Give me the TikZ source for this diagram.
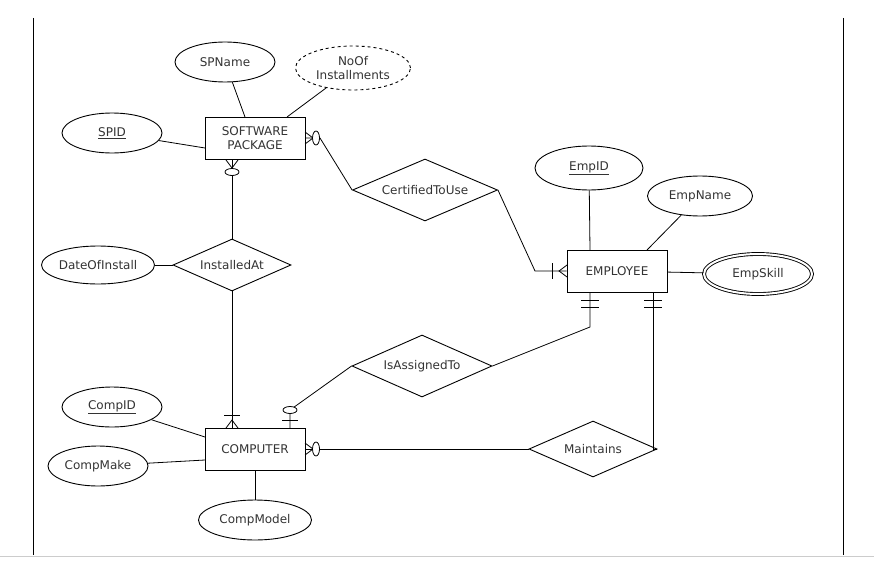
\documentclass[tikz,border=0pt]{standalone}
\usepackage{fontspec}
\setmainfont{DejaVu Sans}
\usetikzlibrary{shapes.geometric}
\begin{document}
\begin{tikzpicture}[x=1pt,y=-1pt,line width=0.9pt,
  every node/.style={font=\fontsize{12}{14}\selectfont,align=center,text=black!80},
  ent/.style={draw,minimum width=100pt,minimum height=42pt,inner sep=1pt},
  att/.style={draw,ellipse,minimum width=100pt,minimum height=40pt,inner sep=0pt},
  rel/.style={draw,diamond,aspect=2.3,inner sep=0pt},
  ln/.style={line width=0.8pt}]
\useasboundingbox (0,0) rectangle (874,567);
\draw[line width=1pt] (33,18) -- (33,555);
\draw[line width=1pt] (843,18) -- (843,555);
\draw[gray!40,line width=0.6pt] (0,556) -- (874,556);
% entities
\node[ent] (sp) at (255,138) {SOFTWARE\\PACKAGE};
\node[ent] (emp) at (617,271) {EMPLOYEE};
\node[ent] (comp) at (255,449) {COMPUTER};
% attributes
\node[att] (spname) at (225,62) {SPName};
\node[att,dashed,minimum width=115pt,minimum height=44pt] (noof) at (353,68) {NoOf\\Installments};
\node[att] (spid) at (112,133) {\underline{SPID}};
\node[att,minimum width=108pt,minimum height=44pt] (empid) at (589,168) {\underline{EmpID}};
\node[att,minimum width=105pt] (empname) at (700,196) {EmpName};
\node[att,double,double distance=2pt,minimum width=108pt] (empskill) at (758,274) {EmpSkill};
\node[att,minimum width=113pt,minimum height=38pt] (doi) at (98,265) {DateOfInstall};
\node[att] (compid) at (112,407) {\underline{CompID}};
\node[att] (compmake) at (98,466) {CompMake};
\node[att,minimum width=113pt] (compmodel) at (255,520) {CompModel};
% relationships
\node[rel,minimum width=145pt,minimum height=62pt] (cert) at (425,190) {CertifiedToUse};
\node[rel,minimum width=118pt,minimum height=52pt] (inst) at (232,265) {InstalledAt};
\node[rel,minimum width=140pt,minimum height=62pt] (assign) at (422,366) {IsAssignedTo};
\node[rel,minimum width=128pt,minimum height=56pt] (maint) at (593,449) {Maintains};
% attribute lines
\draw[ln] (spname) -- (245,117);
\draw[ln] (noof) -- (287,117);
\draw[ln] (spid) -- (205,148);
\draw[ln] (empid) -- (590,250);
\draw[ln] (empname) -- (647,250);
\draw[ln] (emp) -- (empskill);
\draw[ln] (doi) -- (inst);
\draw[ln] (compid) -- (205,437);
\draw[ln] (compmake) -- (205,460);
\draw[ln] (compmodel) -- (255,470);
% SP - CertifiedToUse (zero or many at SP)
\coordinate (c1) at (320,138);
\draw[ln] (305,138) -- (c1) -- (cert.west);
\draw[ln] (305,132) -- (313,138) -- (305,144);
\draw[ln,fill=white] (316,138) ellipse (3.5 and 7);
% CertifiedToUse - EMPLOYEE (one or many)
\coordinate (c2) at (535,271);
\draw[ln] (cert.east) -- (c2) -- (emp.west);
\draw[ln] (567,265) -- (559,271) -- (567,277);
\draw[ln] (552,263) -- (552,279);
% SP - InstalledAt (zero or many)
\draw[ln] (232,160) -- (inst.north);
\draw[ln] (226,160) -- (232,168) -- (238,160);
\draw[ln,fill=white] (232,172) ellipse (7 and 3.5);
% InstalledAt - COMPUTER (one or many)
\draw[ln] (inst.south) -- (232,428);
\draw[ln] (226,428) -- (232,420) -- (238,428);
\draw[ln] (224,415) -- (240,415);
% IsAssignedTo - COMPUTER (zero or one)
\coordinate (c3) at (290,410);
\draw[ln] (assign.west) -- (c3) -- (290,428);
\draw[ln] (282,420) -- (298,420);
\draw[ln,fill=white] (290,410) ellipse (7 and 3.5);
% IsAssignedTo - EMPLOYEE (one and only one)
\coordinate (c4) at (590,327);
\draw[ln] (assign.east) -- (c4) -- (590,292);
\draw[ln] (581,300) -- (599,300);
\draw[ln] (581,307) -- (599,307);
% Maintains - EMPLOYEE
\coordinate (c5) at (653,449);
\draw[ln] (maint.east) -- (c5) -- (653,292);
\draw[ln] (644,300) -- (662,300);
\draw[ln] (644,307) -- (662,307);
% Maintains - COMPUTER (zero or many)
\draw[ln] (maint.west) -- (305,449);
\draw[ln] (305,443) -- (313,449) -- (305,455);
\draw[ln,fill=white] (316,449) ellipse (3.5 and 7);
\end{tikzpicture}
\end{document}
